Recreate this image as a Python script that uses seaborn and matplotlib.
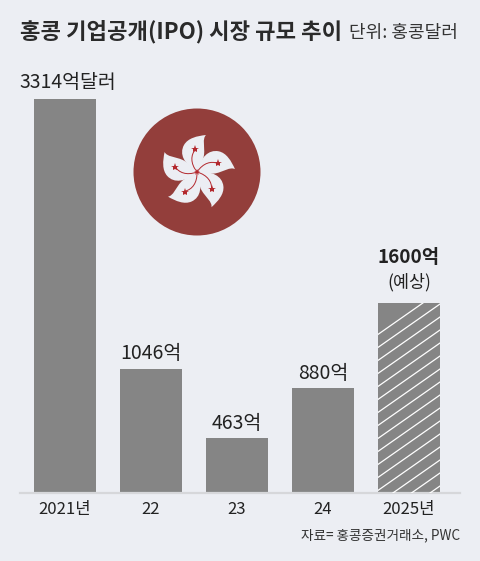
"""Hong Kong IPO market size, 2021-2025 (bar chart with flag badge)."""

import matplotlib
matplotlib.use("Agg")
import matplotlib.pyplot as plt
import numpy as np
import pandas as pd
import seaborn as sns
from matplotlib.patches import Circle, PathPatch
from matplotlib.path import Path
from matplotlib.transforms import Affine2D

# data
years = ["2021년", "22", "23", "24", "2025년"]
values = [3314, 1046, 463, 880, 1600]
value_labels = ["3314억달러", "1046억", "463억", "880억", "1600억"]

BG = "#eceef3"
BAR = "#858585"
INK = "#222222"
FLAG = "#933e3b"
STAR = "#b3282d"
W, H = 480, 561

sns.set_theme(style="white")
plt.rcParams["font.family"] = ["Noto Sans CJK KR", "DejaVu Sans"]

fig = plt.figure(figsize=(W / 100, H / 100), dpi=100, facecolor=BG)

# overlay in pixel coordinates for the badge, hatching and headings
over = fig.add_axes([0, 0, 1, 1], zorder=3)
over.set_xlim(0, W)
over.set_ylim(H, 0)
over.axis("off")

ax = fig.add_axes([20 / W, (H - 493) / H, 440 / W, 394 / H], zorder=1)
ax.patch.set_alpha(0)

df = pd.DataFrame({"year": years, "value": values})
sns.barplot(data=df, x="year", y="value", color=BAR, saturation=1, width=62 / 86,
            linewidth=0, ax=ax)
ax.set_xlim((20 - 65) / 86, (460 - 65) / 86)
ax.set_ylim(0, 3314)
ax.set_xlabel("")
ax.set_ylabel("")
ax.set_yticks([])
sns.despine(ax=ax, left=True)
ax.spines["bottom"].set_color("#d6d7da")
ax.spines["bottom"].set_linewidth(1.6)
ax.tick_params(axis="x", length=0, pad=6, labelsize=12, labelcolor=INK)

# value labels above the bars
for i, (val, lab) in enumerate(zip(values, value_labels)):
    if i == 4:
        ax.annotate(lab, (i, val), xytext=(0, 26), textcoords="offset points",
                    ha="center", va="bottom", fontsize=13.6, fontweight="bold",
                    color=INK, annotation_clip=False)
        ax.annotate("(예상)", (i, val), xytext=(0, 8), textcoords="offset points",
                    ha="center", va="bottom", fontsize=12.5, color=INK,
                    annotation_clip=False)
    elif i == 0:
        ax.annotate(lab, (i, val), xytext=(2, 4), textcoords="offset points",
                    ha="center", va="bottom", fontsize=14, color=INK,
                    annotation_clip=False)
    else:
        ax.annotate(lab, (i, val), xytext=(0, 3), textcoords="offset points",
                    ha="center", va="bottom", fontsize=14, color=INK,
                    annotation_clip=False)

# white diagonal hatching on the forecast bar
forecast = ax.patches[4]
for c in np.arange(300, 560, 13):
    line, = over.plot([370, 450], [c + 40, c - 16], color="white", lw=0.9)
    line.set_clip_path(forecast)

# flag badge
cx, cy = 197, 172
over.add_patch(Circle((cx, cy), 63.5, fc=FLAG, ec="none"))

petal = [
    (Path.MOVETO, (0, 0)),
    (Path.CURVE4, (-13, -8)), (Path.CURVE4, (-18, -18)), (Path.CURVE4, (-13, -27)),
    (Path.CURVE4, (-9, -34)), (Path.CURVE4, (0, -36)), (Path.CURVE4, (9, -37)),
    (Path.CURVE4, (5, -33)), (Path.CURVE4, (8, -26)), (Path.CURVE4, (7, -17)),
    (Path.CURVE4, (6, -11)), (Path.CURVE4, (2, -5)), (Path.CURVE4, (0, 0)),
]
codes, verts = zip(*petal)
petal_path = Path(verts, codes)
stem_path = Path([(0, 0), (-7, -9), (-6, -17), (-2, -22)],
                 [Path.MOVETO, Path.CURVE4, Path.CURVE4, Path.CURVE4])
for k in range(5):
    tr = Affine2D().rotate_deg(72 * k).translate(cx, cy) + over.transData
    over.add_patch(PathPatch(petal_path, fc=BG, ec="none", transform=tr))
    over.add_patch(PathPatch(stem_path, fc="none", ec=STAR, lw=0.7, transform=tr))
    over.plot([-2], [-23], marker="*", ms=6, color=STAR, mew=0, transform=tr)
over.plot([cx], [cy], marker="*", ms=5, color=STAR, mew=0)

# headings
over.text(20, 32, "홍콩 기업공개(IPO) 시장 규모 추이", fontweight="bold",
          fontsize=16, color="#2a2a2a", ha="left", va="center")
over.text(458, 33, "단위: 홍콩달러", fontsize=13, color="#333333",
          ha="right", va="center")
over.text(460, 535, "자료= 홍콩증권거래소, PWC", fontsize=9.8, color="#333333",
          ha="right", va="center")

fig.savefig("out.png", dpi=100, facecolor=BG)
